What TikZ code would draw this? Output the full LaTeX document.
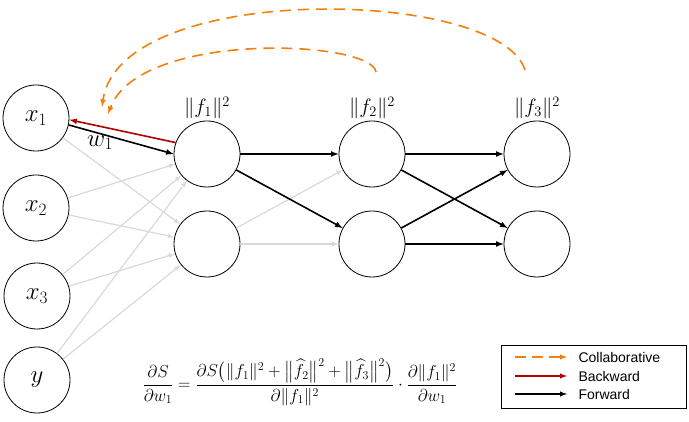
\documentclass[tikz,border=0pt]{standalone}
\usepackage{amsmath}
\usepackage{fontspec}
\usetikzlibrary{positioning}
\newfontfamily\lgfont{Liberation Sans}
\begin{document}
\begin{tikzpicture}[x=1pt,y=-1pt,
 neuron/.style={circle,draw,thick,minimum size=66pt,inner sep=0pt,font=\fontsize{24}{26}\selectfont},
 gr/.style={draw=black!15,line width=1.2pt,-latex},
 fw/.style={draw=black,line width=1.6pt,-latex},
 bw/.style={draw=red!70!black,line width=1.6pt,-latex},
 co/.style={draw=orange!80!brown,line width=1.6pt,dash pattern=on 11pt off 7pt,-latex},
 lab/.style={font=\fontsize{22}{24}\selectfont}]
\useasboundingbox (0,0) rectangle (689,422);
\node[neuron] (x1) at (36,118) {$x_1$};
\node[neuron] (x2) at (36,208) {$x_2$};
\node[neuron] (x3) at (37,296) {$x_3$};
\node[neuron] (y) at (37,380) {$y$};
\node[neuron] (a1) at (207,154) {};
\node[neuron] (a2) at (207,244) {};
\node[neuron] (b1) at (372,154) {};
\node[neuron] (b2) at (372,244) {};
\node[neuron] (c1) at (537,154) {};
\node[neuron] (c2) at (537,244) {};
\node[lab,above=-2pt of a1] (la) {$\|f_1\|^2$};
\node[lab,above=-2pt of b1] (lb) {$\|f_2\|^2$};
\node[lab,above=-2pt of c1] (lc) {$\|f_3\|^2$};
% gray
\draw[gr] (x1) -- (a2);
\draw[gr] (x2) -- (a1);
\draw[gr] (x2) -- (a2);
\draw[gr] (x3) -- (a1);
\draw[gr] (x3) -- (a2);
\draw[gr] (y) -- (a1);
\draw[gr] (y) -- (a2);
\draw[gr] (a2) -- (b1);
\draw[gr] (a2) -- (b2);
% black
\draw[fw] (x1.-12) -- node[below,pos=0.3,font=\fontsize{24}{26}\selectfont,inner sep=1pt] (w) {$w_1$} (a1.180);
\draw[bw] (a1.160) -- (x1.-3);
\draw[fw] (a1) -- (b1);
\draw[fw] (a1) -- (b2);
\draw[fw] (b1) -- (c1);
\draw[fw] (b1) -- (c2);
\draw[fw] (b2) -- (c1);
\draw[fw] (b2) -- (c2);
% collaborative
\coordinate (s2) at (376,72);
\coordinate (t2) at (108,114);
\coordinate (s3) at (525,70);
\coordinate (t3) at (102,107);
\draw[co] (s2) .. controls (372,40) and (140,30) .. (t2);
\draw[co] (s3) .. controls (500,-12) and (120,-20) .. (t3);
% formula
\node[font=\fontsize{17}{19}\selectfont] (eq) at (300,382)
 {$\dfrac{\partial S}{\partial w_1}=\dfrac{\partial S\bigl(\|f_1\|^2+\bigl\|\widehat{f_2}\bigr\|^2+\bigl\|\widehat{f_3}\bigr\|^2\bigr)}{\partial\|f_1\|^2}\cdot\dfrac{\partial\|f_1\|^2}{\partial w_1}$};
% legend
\node[draw,line width=0.8pt,minimum width=185pt,minimum height=63pt] (lg) at (593.5,376.5) {};
\coordinate (l1a) at (515,357); \coordinate (l1b) at (567,357);
\coordinate (l2a) at (515,376); \coordinate (l2b) at (567,376);
\coordinate (l3a) at (515,394); \coordinate (l3b) at (567,394);
\draw[co,line width=1.4pt,dash pattern=on 11pt off 6pt] (l1a) -- (l1b);
\draw[bw,line width=1.4pt] (l2a) -- (l2b);
\draw[fw,line width=1.4pt] (l3a) -- (l3b);
\node[font=\lgfont\fontsize{14}{15}\selectfont,anchor=west] (t1) at (575,357) {Collaborative};
\node[font=\lgfont\fontsize{14}{15}\selectfont,anchor=west] (t2l) at (575,376) {Backward};
\node[font=\lgfont\fontsize{14}{15}\selectfont,anchor=west] (t3l) at (575,394) {Forward};
\end{tikzpicture}
\end{document}
